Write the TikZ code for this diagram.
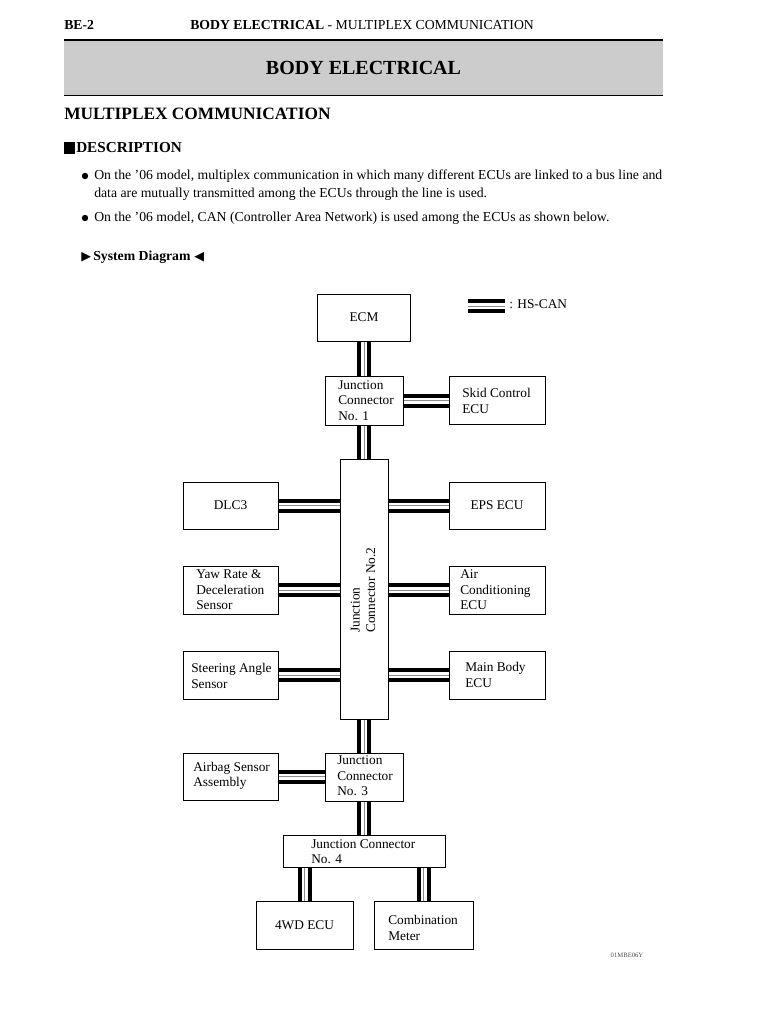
\documentclass[tikz,border=0pt]{standalone}
\usepackage{fontspec}
\setmainfont{Liberation Serif}
\newfontfamily\symfont{DejaVu Sans}
\usetikzlibrary{backgrounds,calc}
\begin{document}
\begin{tikzpicture}[x=0.75pt,y=-0.75pt,
  box/.style={draw, line width=0.75pt, inner sep=0pt, font=\fontsize{10}{11.6}\selectfont},
  lbl/.style={font=\fontsize{10}{11.6}\selectfont, align=left, inner sep=0pt},
  body/.style={font=\fontsize{10.3}{12}\selectfont, inner sep=0pt, anchor=west},
  hscan/.style={preaction={draw=black,line width=10.5pt}, draw=white, line width=4.5pt, postaction={draw=black!45,line width=0.6pt}}]
\useasboundingbox (0,0) rectangle (768,1024);

% ---------- page header ----------
\node[body, font=\fontsize{10.3}{12}\selectfont\bfseries] (be) at (64,25) {BE-2};
\node[body, font=\fontsize{10.3}{12}\selectfont] (hdr) at (190,25) {\textbf{BODY ELECTRICAL} - MULTIPLEX COMMUNICATION};
\node[fill=black!20, inner sep=0pt, minimum width=449.25pt, minimum height=41.25pt,
      font=\fontsize{15}{18}\selectfont\bfseries] (band) at (363.5,67.5) {BODY ELECTRICAL};
\draw[line width=1.4pt] (band.north west) -- (band.north east);
\draw[line width=1.1pt] (band.south west) -- (band.south east);
\node[body, font=\fontsize{13}{15}\selectfont\bfseries] (title) at (64,114) {MULTIPLEX COMMUNICATION};

% ---------- description ----------
\node[fill=black, inner sep=0pt, minimum width=8.25pt, minimum height=9pt] (sq) at (69.5,148) {};
\node[body, font=\fontsize{11.4}{13}\selectfont\bfseries] (desc) at (76,148) {DESCRIPTION};
\node[circle, fill=black, inner sep=0pt, minimum size=4.8pt] (b1) at (85,176) {};
\node[body] (t1) at (94,176) {On the '06 model, multiplex communication in which many different ECUs are linked to a bus line and};
\node[body] (t2) at (94,194) {data are mutually transmitted among the ECUs through the line is used.};
\node[circle, fill=black, inner sep=0pt, minimum size=4.8pt] (b2) at (85,218) {};
\node[body] (t3) at (94,218) {On the '06 model, CAN (Controller Area Network) is used among the ECUs as shown below.};
\node[body, font=\fontsize{9.5}{10}\symfont] (tr1) at (81,257) {▶};
\node[body, font=\fontsize{10.3}{12}\selectfont\bfseries] (sd) at (93,257) {System Diagram};
\node[body, font=\fontsize{9.5}{10}\symfont] (tr2) at (194,257) {◀};

% ---------- boxes ----------
\node[box, minimum width=69.75pt, minimum height=35.25pt] (ecm) at (364,317.5) {ECM};
\node[box, minimum width=58.5pt, minimum height=36.75pt] (jc1) at (364,400.5) {};
\node[lbl, anchor=west] (jc1t) at (338,400.5) {Junction\\Connector\\No. 1};
\node[box, minimum width=72pt, minimum height=36pt] (skid) at (497,400) {};
\node[lbl, anchor=west] (skidt) at (462,401) {Skid Control\\ECU};
\node[box, minimum width=36pt, minimum height=195pt] (jc2) at (364,589) {};
\node[lbl, rotate=90] (jc2t) at (363,590) {Junction\\Connector No.2};

\node[box, minimum width=71.25pt, minimum height=35.25pt] (dlc) at (230.5,505.5) {DLC3};
\node[box, minimum width=72pt, minimum height=35.25pt] (eps) at (497,505.5) {EPS ECU};
\node[box, minimum width=71.25pt, minimum height=36pt] (yaw) at (230.5,590) {};
\node[lbl, anchor=west] (yawt) at (196,590) {Yaw Rate \&\\Deceleration\\Sensor};
\node[box, minimum width=72pt, minimum height=36pt] (air) at (497,590) {};
\node[lbl, anchor=west] (airt) at (460,590) {Air\\Conditioning\\ECU};
\node[box, minimum width=71.25pt, minimum height=36pt] (steer) at (230.5,675) {};
\node[lbl, anchor=west] (steert) at (191,676) {Steering Angle\\Sensor};
\node[box, minimum width=72pt, minimum height=36pt] (mainb) at (497,675) {};
\node[lbl, anchor=west] (mainbt) at (465,675) {Main Body\\ECU};

\node[box, minimum width=71.25pt, minimum height=35.25pt] (airbag) at (230.5,776.5) {};
\node[lbl, anchor=west] (airbagt) at (193,776) {Airbag Sensor\\Assembly};
\node[box, minimum width=58.5pt, minimum height=36pt] (jc3) at (364,777) {};
\node[lbl, anchor=west] (jc3t) at (337,776) {Junction\\Connector\\No. 3};
\node[box, minimum width=121.5pt, minimum height=24pt] (jc4) at (364,851) {};
\node[lbl, anchor=west] (jc4t) at (311,851.5) {Junction Connector\\No. 4};
\node[box, minimum width=72.75pt, minimum height=36pt] (wd) at (304.5,925) {4WD ECU};
\node[box, minimum width=74.25pt, minimum height=36pt] (comb) at (423.5,925) {};
\node[lbl, anchor=west] (combt) at (388,928) {Combination\\Meter};

% legend
\coordinate (lg1) at (468,306);
\coordinate (lg2) at (505,306);
\node[lbl, anchor=west] (lgt) at (509,304) {: HS-CAN};

\node[inner sep=0pt, font=\fontsize{5}{6}\selectfont, text=black!70] (code) at (627,955) {01MBE06Y};

% ---------- HS-CAN connectors ----------
\begin{pgfonlayer}{background}
\draw[hscan] (ecm.south) -- (jc1.north);
\draw[hscan] (jc1.east) -- (jc1.east -| skid.west);
\draw[hscan] (jc1.south) -- (jc2.north);
\draw[hscan] (dlc.east) -- (dlc.east -| jc2.west);
\draw[hscan] (eps.west) -- (eps.west -| jc2.east);
\draw[hscan] (yaw.east) -- (yaw.east -| jc2.west);
\draw[hscan] (air.west) -- (air.west -| jc2.east);
\draw[hscan] (steer.east) -- (steer.east -| jc2.west);
\draw[hscan] (mainb.west) -- (mainb.west -| jc2.east);
\draw[hscan] (jc2.south) -- (jc3.north);
\draw[hscan] (airbag.east) -- (airbag.east -| jc3.west);
\draw[hscan] (jc3.south) -- (jc4.north);
\draw[hscan] (wd.north) -- (wd.north |- jc4.south);
\draw[hscan] (comb.north) -- (comb.north |- jc4.south);
\draw[hscan] (lg1) -- (lg2);
\end{pgfonlayer}
\end{tikzpicture}
\end{document}
